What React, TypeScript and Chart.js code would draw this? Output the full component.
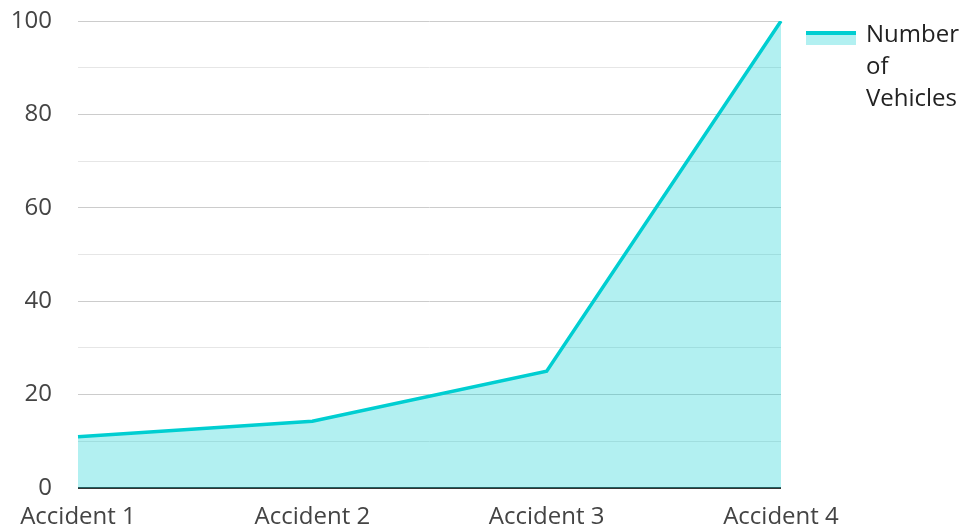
import React, { useEffect, useRef } from "react";
import { Chart, registerables } from "chart.js";

Chart.register(...registerables);

const categories = ["Accident 1", "Accident 2", "Accident 3", "Accident 4"];
const vehicles = [11, 14.3, 25, 100];
const seriesLabel = "Number of Vehicles";
const legendLines = ["Number", "of", "Vehicles"];

const LINE = "#00CED1";
const FILL = "rgba(0, 206, 209, 0.3)";
const FONT = "'Open Sans', 'Noto Sans', sans-serif";

export default function App() {
  const ref = useRef<HTMLCanvasElement | null>(null);

  useEffect(() => {
    if (!ref.current) return;
    const chart = new Chart(ref.current, {
      type: "line",
      data: {
        labels: categories,
        datasets: [
          {
            label: seriesLabel,
            data: vehicles,
            borderColor: LINE,
            backgroundColor: FILL,
            borderWidth: 3.5,
            fill: "origin",
            pointRadius: 0,
            tension: 0,
          },
        ],
      },
      options: {
        animation: false,
        responsive: false,
        maintainAspectRatio: false,
        layout: { padding: { top: 21, right: 186, left: 0, bottom: 0 } },
        plugins: {
          legend: { display: false },
          tooltip: { enabled: false },
        },
        scales: {
          x: {
            offset: false,
            grid: { display: false, drawTicks: false },
            border: { display: false },
            ticks: {
              color: "#444",
              font: { family: FONT, size: 24 },
              padding: 15,
              maxRotation: 0,
              autoSkip: false,
            },
            afterFit: (s: any) => {
              s.height = 41;
              s.paddingLeft = 0;
              s.paddingRight = 0;
            },
          },
          y: {
            min: 0,
            max: 100,
            border: { display: false },
            grid: {
              drawTicks: false,
              color: (ctx: any) => {
                const v = ctx.tick ? ctx.tick.value : 0;
                if (v === 0) return "#333";
                return v % 20 === 0 ? "#cccccc" : "#e6e6e6";
              },
              lineWidth: (ctx: any) => {
                const v = ctx.tick ? ctx.tick.value : 0;
                return v === 0 ? 2 : 1;
              },
            },
            ticks: {
              stepSize: 10,
              color: "#444",
              font: { family: FONT, size: 24 },
              padding: 26,
              callback: (v: any) => (Number(v) % 20 === 0 ? String(v) : ""),
            },
            afterFit: (s: any) => {
              s.width = 78;
              s.paddingTop = 0;
              s.paddingBottom = 0;
            },
          },
        },
      },
    });
    return () => chart.destroy();
  }, []);

  return (
    <div
      style={{
        position: "absolute",
        left: 0,
        top: 0,
        width: 967,
        height: 529,
        background: "#fff",
        overflow: "hidden",
      }}
    >
      <canvas
        ref={ref}
        width={967}
        height={529}
        style={{ position: "absolute", left: 0, top: 0, width: 967, height: 529 }}
      />
      <div
        style={{
          position: "absolute",
          left: 806,
          top: 31,
          width: 50,
          height: 14,
          background: FILL,
          borderTop: `4px solid ${LINE}`,
          boxSizing: "border-box",
        }}
      />
      <div
        style={{
          position: "absolute",
          left: 866,
          top: 17,
          fontFamily: FONT,
          fontSize: 24,
          lineHeight: "32px",
          color: "#222",
        }}
      >
        {legendLines.map((l) => (
          <div key={l}>{l}</div>
        ))}
      </div>
    </div>
  );
}
